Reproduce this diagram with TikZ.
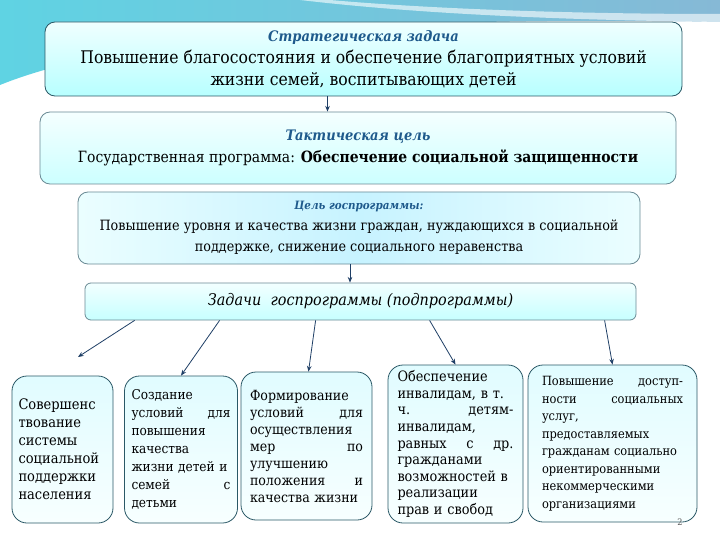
\documentclass[tikz,border=0pt]{standalone}
\usepackage{fontspec}
\setmainfont{DejaVu Serif Condensed}
\newfontfamily\lserif{DejaVu Serif Condensed}
\usepackage{xcolor}
\usetikzlibrary{positioning, arrows.meta, calc}
\definecolor{boxline}{HTML}{2A5866}
\definecolor{titleblue}{HTML}{1F5A8C}
\definecolor{arrowcol}{HTML}{1F3F66}
\definecolor{bgblue}{HTML}{86B9D6}
\definecolor{bgcyan}{HTML}{5FD3E3}
\tikzset{
  pbox/.style={draw=boxline, line width=0.8pt, rounded corners=10pt, align=center, inner sep=2pt},
  cyanbox/.style={pbox, top color=cyan!6, bottom color=cyan!28},
  bluebox/.style={pbox, shading=axis, left color=blue!6!cyan!8, right color=blue!6!cyan!8, middle color=blue!22!cyan!22, shading angle=90},
  subbox/.style={draw=boxline, line width=0.8pt, rounded corners=15pt, align=left, inner sep=0pt,
    top color=blue!10!cyan!12, bottom color=cyan!3, font=\lserif\fontsize{14.5}{18}\selectfont},
  arr/.style={-{Stealth[length=2mm, width=1.6mm]}, line width=0.8pt, draw=arrowcol},
}
\newcommand{\ttlfont}{\fontsize{14.5}{18}\selectfont\bfseries\itshape\color{titleblue}}
\begin{document}
\begin{tikzpicture}[x=1pt, y=-1pt]
\useasboundingbox (0,0) rectangle (720,540);
% background
\fill[white] (0,0) rectangle (720,540);
\shade[left color=bgcyan, right color=bgblue] (0,0) -- (720,0) -- (720,22)
  .. controls (520,18) and (160,20) .. (0,85) -- cycle;
\fill[white, opacity=0.6] (330,0) .. controls (420,8) and (560,14) .. (720,14) -- (720,22)
  .. controls (560,20) and (420,14) .. (300,0) -- cycle;
% upper boxes
\node[cyanbox, minimum width=637pt, minimum height=74pt, font=\lserif\fontsize{17.4}{22}\selectfont] (strat) at (363.5,59)
  {{\ttlfont Стратегическая задача}\\
   Повышение благосостояния и обеспечение благоприятных условий\\
   жизни семей, воспитывающих детей};
\node[cyanbox, draw=boxline!70, top color=cyan!4, bottom color=cyan!20, minimum width=636pt, minimum height=72pt,
  font=\lserif\fontsize{15.5}{22}\selectfont] (tact) at (358,148)
  {{\ttlfont Тактическая цель}\\
   Государственная программа: \textbf{Обеспечение социальной защищенности}};
\node[bluebox, draw=boxline!70, minimum width=562pt, minimum height=72pt,
  font=\lserif\fontsize{14.2}{21}\selectfont] (goal) at (359,228)
  {{\fontsize{11.5}{14}\selectfont\bfseries\itshape\color{titleblue} Цель госпрограммы:}\\
   Повышение уровня и качества жизни граждан, нуждающихся в социальной\\
   поддержке, снижение социального неравенства};
\node[cyanbox, draw=boxline!70, rounded corners=6pt, top color=cyan!5, bottom color=cyan!22, minimum width=551pt, minimum height=37pt,
  font=\lserif\fontsize{16}{20}\selectfont\itshape] (tasks) at (360.5,301.5)
  {Задачи\ \ госпрограммы (подпрограммы)};
% lower boxes
\node[subbox, minimum width=101pt, minimum height=147pt, text width=88pt] (sub1) at (62.5,449.5)
  {Совершенс\\твование\\системы\\социальной\\поддержки\\населения};
\node[subbox, minimum width=113pt, minimum height=147pt, text width=99pt,
  font=\lserif\fontsize{13.5}{18}\selectfont] (sub2) at (181,449.5)
  {Создание\\условий\hfill для\\повышения\\качества\\жизни детей и\\семей\hfill с\\детьми};
\node[subbox, minimum width=131pt, minimum height=148pt, text width=113pt,
  font=\lserif\fontsize{14}{17}\selectfont] (sub3) at (306.5,446)
  {Формирование\\условий\hfill для\\осуществления\\мер\hfill по\\улучшению\\положения\hfill и\\качества~жизни};
\node[subbox, minimum width=135pt, minimum height=158pt, text width=116pt,
  font=\lserif\fontsize{14.3}{16.6}\selectfont] (sub4) at (455.5,444)
  {Обеспечение\\инвалидам, в т.\\ч.\hfill детям-\\инвалидам,\\равных\hfill с\hfill др.\\гражданами\\возможностей в\\реализации\\прав и свобод};
\node[subbox, minimum width=169pt, minimum height=157pt, text width=141pt,
  font=\lserif\fontsize{12.7}{17.5}\selectfont] (sub5) at (612.5,443.5)
  {Повышение\hfill доступ-\\ности\hfill социальных\\услуг,\\предоставляемых\\гражданам социально\\ориентированными\\некоммерческими\\организациями};
\node[font=\lserif\fontsize{9}{10}\selectfont, text=gray!70!black] (pagenum) at (680,522) {2};
% connectors
\coordinate (free1) at (78,357);
\draw[arr] ([xshift=-36pt]strat.south) -- ([xshift=-36pt]strat.south |- tact.north);
\draw[arr] ([xshift=-9pt]goal.south) -- ([xshift=-9pt]goal.south |- tasks.north);
\draw[arr] ([xshift=50pt]tasks.south west) -- (free1);
\draw[arr] ([xshift=135pt]tasks.south west) -- (sub2.north);
\draw[arr] ([xshift=231pt]tasks.south west) -- ([xshift=2pt]sub3.north);
\draw[arr] ([xshift=345pt]tasks.south west) -- (sub4.north);
\draw[arr] ([xshift=520pt]tasks.south west) -- (sub5.north);
\end{tikzpicture}
\end{document}
